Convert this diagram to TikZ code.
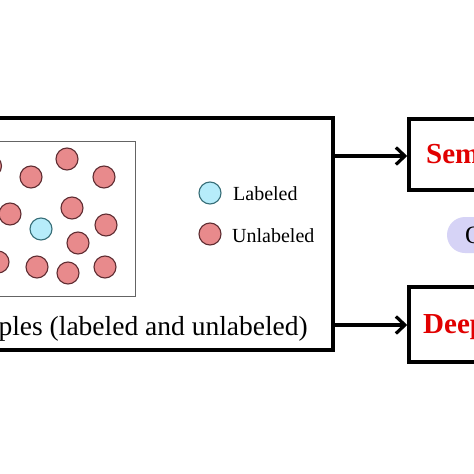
\documentclass[tikz,border=0pt]{standalone}
\usepackage{fontspec}
\setmainfont{Liberation Serif}
\usetikzlibrary{arrows.meta}
\definecolor{pinkfill}{RGB}{232,138,140}
\definecolor{pinkline}{RGB}{95,45,50}
\definecolor{cyanfill}{RGB}{182,236,250}
\definecolor{cyanline}{RGB}{55,110,120}
\definecolor{redtxt}{RGB}{225,0,0}
\definecolor{pill}{RGB}{214,211,246}
\definecolor{graybox}{RGB}{100,100,100}
\tikzset{
  bigbox/.style={draw=black, line width=3.5pt, inner sep=0pt},
  smallbox/.style={draw=graybox, line width=1pt, inner sep=0pt},
  unl/.style={circle, draw=pinkline, fill=pinkfill, line width=1.1pt, minimum size=22pt, inner sep=0pt},
  lab/.style={circle, draw=cyanline, fill=cyanfill, line width=1.1pt, minimum size=22pt, inner sep=0pt},
  legtxt/.style={font=\fontsize{20}{24}\selectfont, inner sep=0pt, anchor=base west},
  bigtxt/.style={font=\fontsize{27.5}{33}\selectfont, inner sep=0pt},
  redt/.style={font=\fontsize{29}{34}\selectfont\bfseries, text=redtxt, inner sep=0pt, anchor=base west},
  arr/.style={line width=3.2pt, -{Straight Barb[length=9pt,width=17pt,line width=3.2pt]}},
}
\begin{document}
\begin{tikzpicture}[x=1pt,y=-1pt]
\useasboundingbox (0,0) rectangle (474,474);
\clip (0,0) rectangle (474,474);
\fill[white] (0,0) rectangle (474,474);
% outer box: x -30..333, y 118..350
\node[bigbox, minimum width=363pt, minimum height=232pt] (outer) at (151.5,234) {};
% inner sample box: x -30..135, y 141..296
\node[smallbox, minimum width=165pt, minimum height=155pt] (inner) at (52.5,218.5) {};
% samples
\node[unl] (u0) at (-9.5,166) {};
\node[unl] (u1) at (67,159) {};
\node[unl] (u2) at (31,177) {};
\node[unl] (u3) at (104,177) {};
\node[unl] (u4) at (72,208) {};
\node[unl] (u5a) at (-11,213) {};
\node[unl] (u5) at (10,214) {};
\node[lab] (l1) at (41,229) {};
\node[unl] (u6) at (106,225) {};
\node[unl] (u7) at (78,243) {};
\node[unl] (u8) at (-2,262) {};
\node[unl] (u9) at (37,267) {};
\node[unl] (u10) at (68,273) {};
\node[unl] (u11) at (105,267) {};
% legend
\node[lab] (legl) at (210,193) {};
\node[legtxt] (legltxt) at (233,200) {Labeled};
\node[unl] (legu) at (210,234) {};
\node[legtxt] (legutxt) at (232,242) {Unlabeled};
% caption
\node[bigtxt, anchor=base east] (cap) at (308,335) {ples (labeled and unlabeled)};
% right boxes
\node[bigbox, minimum width=160pt, minimum height=71pt] (semb) at (489,154.5) {};
\node[bigbox, minimum width=160pt, minimum height=75pt] (deepb) at (489,324.5) {};
\node[redt] (semt) at (426,163) {Sem};
\node[redt] (deept) at (423,333) {Deep};
% pill
\node[fill=pill, rounded corners=18pt, minimum width=80pt, minimum height=36pt, inner sep=0pt] (pillb) at (487,235) {};
\node[font=\fontsize{25}{30}\selectfont, inner sep=0pt, anchor=west] (pillt) at (465,235) {O};
% arrows
\coordinate (a1) at (0,156);
\coordinate (a2) at (0,325);
\draw[arr] (outer.east |- a1) -- (semb.west |- a1);
\draw[arr] (outer.east |- a2) -- (deepb.west |- a2);
\end{tikzpicture}
\end{document}
